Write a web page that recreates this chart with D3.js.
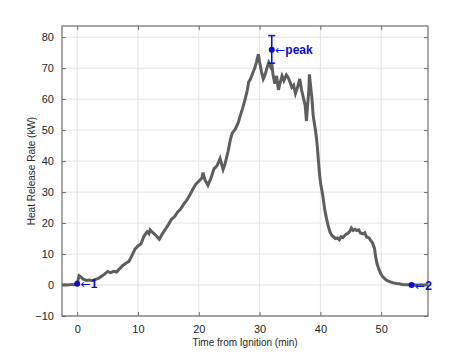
<!DOCTYPE html>
<html><head><meta charset="utf-8">
<script src="https://cdn.jsdelivr.net/npm/d3@7"></script>
<style>
body{margin:0;background:#fff;}
svg{display:block;font-family:"Liberation Sans",Arial,sans-serif;}
</style></head>
<body>
<svg id="c" width="474" height="355"></svg>
<script>
const timeMin = [-2.5,-2,-1.5,-1,-0.5,0,0.3,0.6,1,1.5,2,2.5,3,3.5,4,4.5,5,5.5,6,6.5,7,7.5,8,8.5,9,9.5,10,10.5,11,11.5,11.8,12,12.5,13,13.5,14,14.5,15,15.5,16,16.5,17,17.5,18,18.5,19,19.5,20,20.5,20.7,21,21.5,22,22.5,23,23.5,24,24.3,24.8,25.2,25.5,26,26.5,26.8,27.2,27.6,28,28.2,28.5,28.9,29.2,29.5,29.8,30,30.3,30.6,30.9,31.2,31.5,31.8,32,32.2,32.5,32.8,33.1,33.4,33.7,34,34.4,34.7,35,35.3,35.6,35.9,36.2,36.6,36.9,37.2,37.5,37.7,37.9,38.1,38.2,38.4,38.6,38.8,39.1,39.3,39.5,39.7,39.9,40.1,40.4,40.7,41,41.3,41.6,41.9,42.2,42.5,42.8,43.1,43.4,43.7,44,44.3,44.6,44.9,45.1,45.4,45.7,46,46.3,46.6,47,47.3,47.6,48,48.3,48.6,48.9,49.1,49.3,49.6,49.9,50.2,50.6,51,51.5,52,52.5,53,53.5,54,54.5,55,55.5,56,56.5,57,57.7];
const hrrKW = [0,0.1,0,0.2,0.1,0.4,3.0,2.6,1.9,1.5,1.6,1.4,1.8,2.1,2.8,3.5,4.4,4.0,4.4,4.2,5.3,6.3,7.0,7.6,9.5,11.6,12.6,13.3,15.8,17.2,16.6,17.8,16.8,15.9,14.8,16.5,18.0,19.5,21.2,22.0,23.5,24.5,26.0,27.3,29.0,30.8,32.5,33.5,34.5,36.3,34.0,32.2,34.5,37.5,38.5,40.8,37.3,39.0,43.0,47.0,49.0,50.3,52.5,54.5,57.0,59.8,63.0,65.5,66.5,68.5,70.0,72.0,74.5,72.0,69.0,66.5,67.8,70.0,71.8,70.5,71.5,68.0,65.0,67.5,63.0,65.5,67.5,66.0,67.8,67.0,65.5,63.8,64.5,61.8,63.5,66.5,63.0,60.5,58.0,53.0,58.0,63.0,68.0,64.0,60.5,55.0,51.0,48.5,44.5,39.5,35.0,32.0,28.8,24.5,21.5,19.0,17.0,16.0,15.5,15.0,15.2,14.6,15.6,15.3,16.0,16.5,16.8,17.5,18.4,17.6,18.0,17.6,17.8,16.8,16.5,16.9,15.5,15.2,14.3,13.5,11.8,9.0,7.0,5.2,3.8,2.8,2.0,1.4,1.0,0.7,0.5,0.4,0.2,0.1,0.1,0,0.1,-0.1,0.1,0,0.1];
const xTicks = [0,10,20,30,40,50];
const yTicks = [-10,0,10,20,30,40,50,60,70,80];
const markT = [0,32,55];
const markY = [0.4,75.9,0];
const markText = ["1","peak","2"];
const peakErrLo = 71.6, peakErrHi = 80.5;

const svg = d3.select("#c");
const L=62,R=428,T=26,B=316;
const x = d3.scaleLinear().domain([-2.5,57.7]).range([L,R]);
const y = d3.scaleLinear().domain([-10,83.6]).range([B,T]);
const axisCol="#262626", boxCol="#6e6e6e";

// grid
const g = svg.append("g");
g.selectAll(".gx").data(xTicks).join("line").attr("x1",d=>x(d)).attr("x2",d=>x(d)).attr("y1",T).attr("y2",B).attr("stroke","#e3e3e3").attr("stroke-width",1);
g.selectAll(".gy").data(yTicks).join("line").attr("y1",d=>y(d)).attr("y2",d=>y(d)).attr("x1",L).attr("x2",R).attr("stroke","#e3e3e3").attr("stroke-width",1);

// axes
const fmt = d3.format("d");
function styleAxis(sel, showText){
  sel.select(".domain").remove();
  sel.selectAll(".tick line").attr("stroke",boxCol);
  sel.selectAll(".tick text").attr("fill",axisCol).style("font-size","11px").style("display",showText?null:"none");
}
svg.append("g").attr("transform",`translate(0,${B})`).call(d3.axisBottom(x).tickValues(xTicks).tickFormat(fmt).tickSizeInner(-4).tickSizeOuter(0).tickPadding(9)).call(s=>styleAxis(s,true));
svg.append("g").attr("transform",`translate(0,${T})`).call(d3.axisTop(x).tickValues(xTicks).tickSizeInner(-4).tickSizeOuter(0)).call(s=>styleAxis(s,false));
svg.append("g").attr("transform",`translate(${L},0)`).call(d3.axisLeft(y).tickValues(yTicks).tickFormat(fmt).tickSizeInner(-4).tickSizeOuter(0).tickPadding(8)).call(s=>styleAxis(s,true));
svg.append("g").attr("transform",`translate(${R},0)`).call(d3.axisRight(y).tickValues(yTicks).tickSizeInner(-4).tickSizeOuter(0)).call(s=>styleAxis(s,false));

// data line
const pts = timeMin.map((t,i)=>[t,hrrKW[i]]);
svg.append("path").datum(pts).attr("fill","none").attr("stroke","#5e5e5e").attr("stroke-width",3).attr("stroke-linejoin","miter")
  .attr("d",d3.line().x(d=>x(d[0])).y(d=>y(d[1])));

// box
svg.append("rect").attr("x",L).attr("y",T).attr("width",R-L).attr("height",B-T).attr("fill","none").attr("stroke",boxCol).attr("stroke-width",1.2);

// markers
const blue="#0a0ae0";
const pk = 1;
svg.append("line").attr("x1",x(markT[pk])).attr("x2",x(markT[pk])).attr("y1",y(peakErrLo)).attr("y2",y(peakErrHi)).attr("stroke",blue).attr("stroke-width",1.5);
[peakErrLo,peakErrHi].forEach(v=>svg.append("line").attr("x1",x(markT[pk])-3.5).attr("x2",x(markT[pk])+3.5).attr("y1",y(v)).attr("y2",y(v)).attr("stroke",blue).attr("stroke-width",1.5));
svg.selectAll(".mk").data(markT).join("circle").attr("cx",d=>x(d)).attr("cy",(d,i)=>y(markY[i])).attr("r",3).attr("fill",blue);
const ml = svg.selectAll(".ml").data(markT).join("text").attr("x",d=>x(d)+3.5).attr("y",(d,i)=>y(markY[i])+4.5)
  .attr("fill",blue).style("font-size","12px").style("font-weight","bold");
ml.append("tspan").style("font-family","'DejaVu Sans'").style("font-weight","normal").style("font-size","12px").text("\u2190");
ml.append("tspan").text((d,i)=>markText[i]);

// labels
svg.append("text").attr("x",(L+R)/2).attr("y",346).attr("text-anchor","middle").attr("fill",axisCol).style("font-size","10px").text("Time from Ignition (min)");
svg.append("text").attr("transform",`translate(35,${(T+B)/2}) rotate(-90)`).attr("text-anchor","middle").attr("fill",axisCol).style("font-size","10px").text("Heat Release Rate (kW)");
</script>
</body></html>
